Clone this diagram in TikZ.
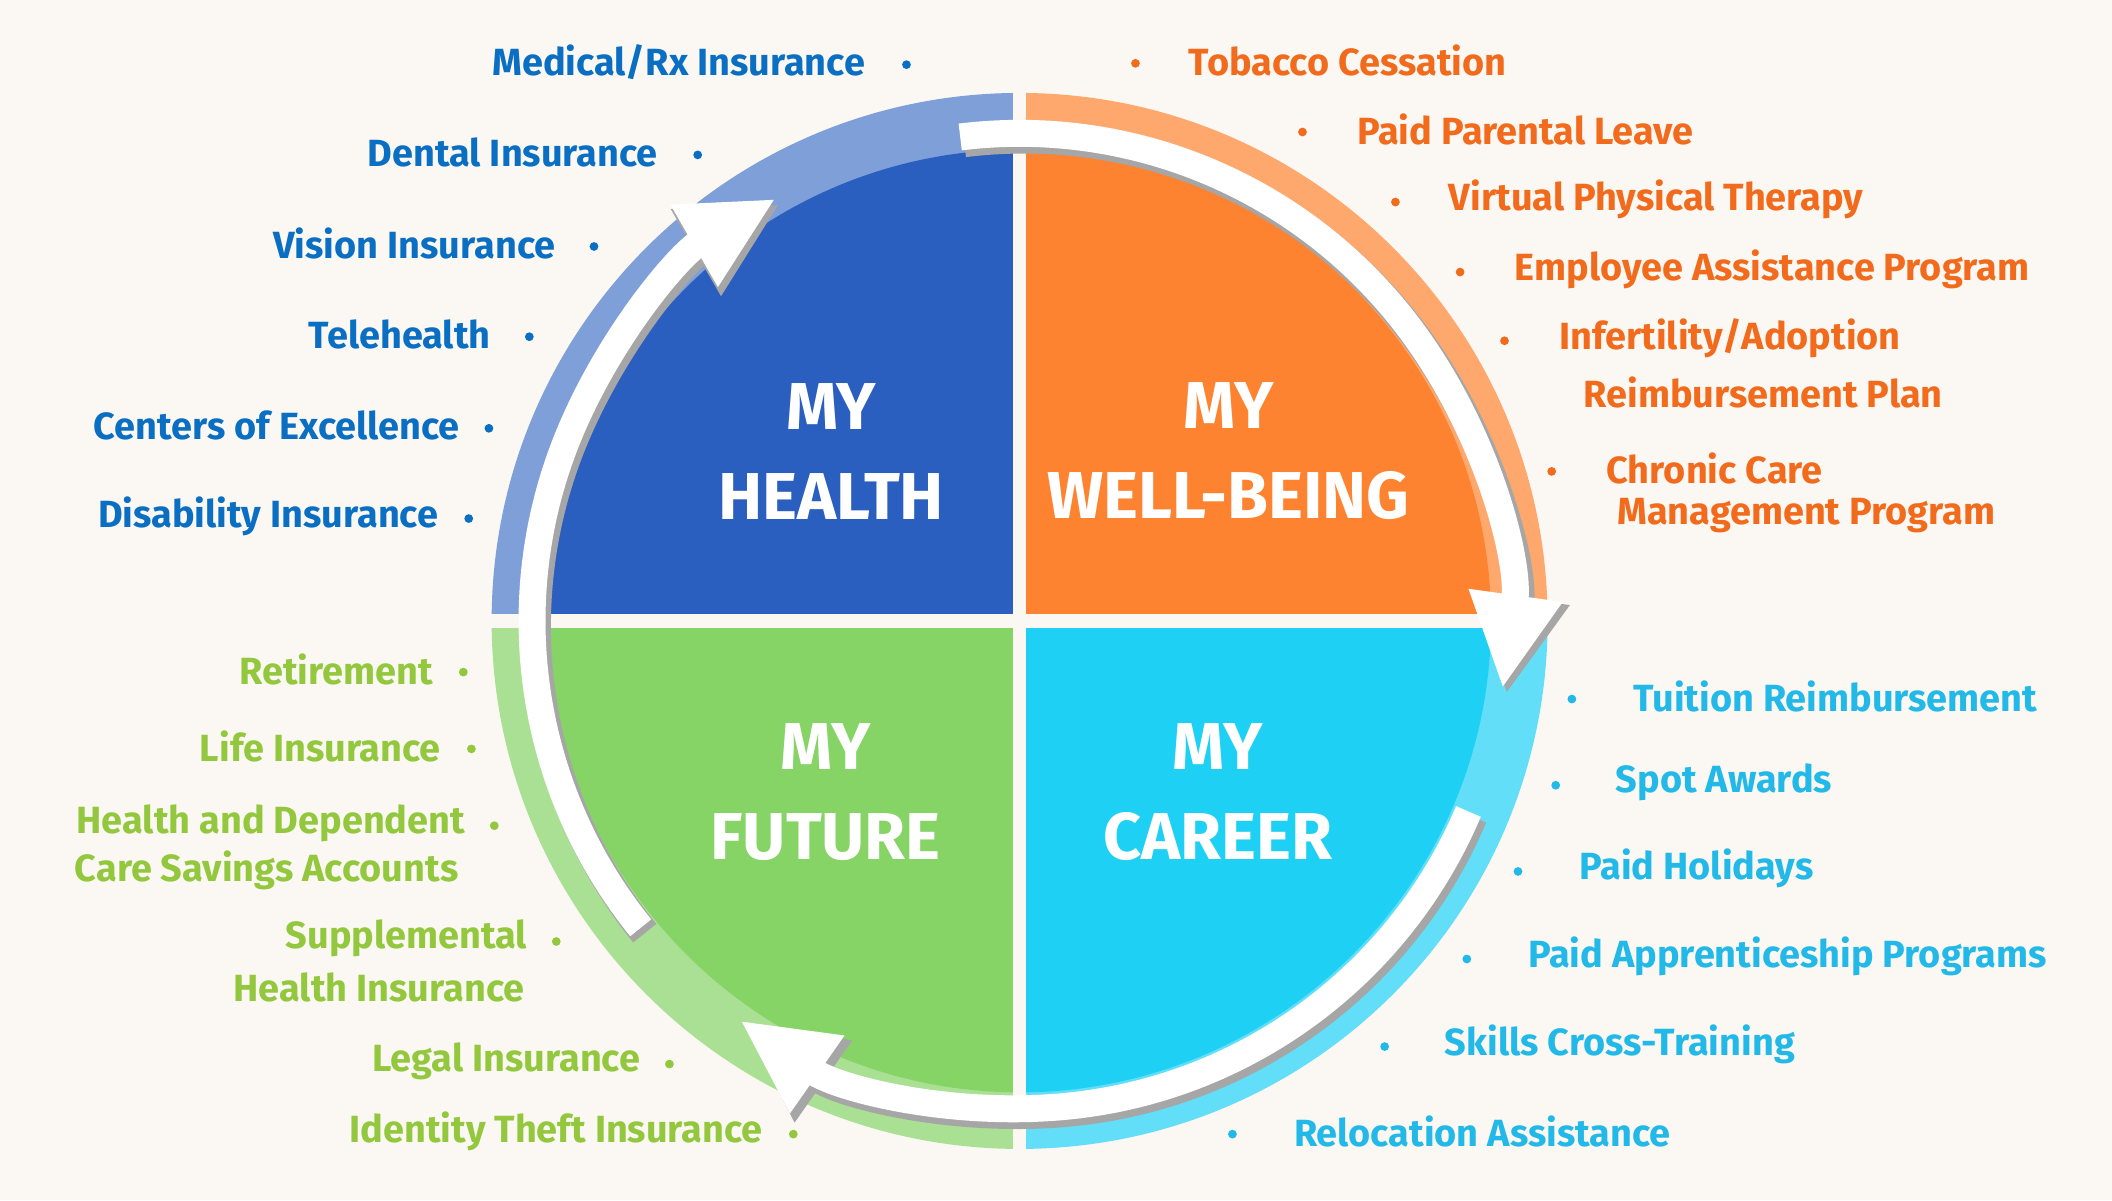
\documentclass[tikz,border=0pt]{standalone}
\usepackage{fontspec}
\setmainfont{Fira Sans}
\usetikzlibrary{arrows.meta}
\definecolor{bg}{HTML}{FBF8F3}
\definecolor{tblue}{HTML}{0A6FC2}
\definecolor{torange}{HTML}{F26B1D}
\definecolor{tgreen}{HTML}{93C83E}
\definecolor{tcyan}{HTML}{22B9E8}
\definecolor{qblue}{HTML}{2A5FC0}
\definecolor{qorange}{HTML}{FD8330}
\definecolor{qgreen}{HTML}{86D366}
\definecolor{qcyan}{HTML}{1FD0F5}
\tikzset{
 itm/.style={font=\fontsize{8}{9}\selectfont\bfseries, inner sep=0pt},
 big/.style={font=\fontsize{14}{19}\selectfont\bfseries, text=white, align=center},
 dot/.style={circle, inner sep=0pt, minimum size=0.065cm},
 arr/.style={line width=0.2cm, white, -{Triangle[length=0.7cm,width=0.65cm]}},
 sh/.style={line width=0.22cm, black!35, -{Triangle[length=0.72cm,width=0.69cm]}}
}
\begin{document}
\begin{tikzpicture}[x={(0.01cm,0)},y={(0,-0.01cm)}]
\fill[bg] (0,0) rectangle (1568,891);
\useasboundingbox (0,0) rectangle (1568,891);
\coordinate (c) at (757,461);
% outer ring
\fill[qblue!60] (c) -- +(-180:392) arc[start angle=-180,end angle=-90,radius=392] -- cycle;
\fill[qorange!70] (c) -- +(-90:392) arc[start angle=-90,end angle=0,radius=392] -- cycle;
\fill[qcyan!70] (c) -- +(0:392) arc[start angle=0,end angle=90,radius=392] -- cycle;
\fill[qgreen!70] (c) -- +(90:392) arc[start angle=90,end angle=180,radius=392] -- cycle;
% inner quadrants
\fill[qblue] (c) -- +(-180:350) arc[start angle=-180,end angle=-90,radius=350] -- cycle;
\fill[qorange] (c) -- +(-90:350) arc[start angle=-90,end angle=0,radius=350] -- cycle;
\fill[qcyan] (c) -- +(0:350) arc[start angle=0,end angle=90,radius=350] -- cycle;
\fill[qgreen] (c) -- +(90:350) arc[start angle=90,end angle=180,radius=350] -- cycle;
\draw[bg, line width=0.1cm] (757,60) -- (757,862);
\draw[bg, line width=0.1cm] (355,461) -- (1160,461);
% arrows: shadows
\draw[sh] ([shift={(3,4)}]c) ++(-219:362) arc[start angle=-219,end angle=-120,radius=362];
\draw[sh] ([shift={(3,4)}]c) ++(-97:362) arc[start angle=-97,end angle=8,radius=362];
\draw[sh] ([shift={(3,4)}]c) ++(23:362) arc[start angle=23,end angle=125,radius=362];
% arrows
\draw[arr] (c) ++(-219:362) arc[start angle=-219,end angle=-120,radius=362];
\draw[arr] (c) ++(-97:362) arc[start angle=-97,end angle=8,radius=362];
\draw[arr] (c) ++(23:362) arc[start angle=23,end angle=125,radius=362];
% quadrant labels
\node[big] (h) at (617,335) {MY\\HEALTH};
\node[big] (w) at (912,335) {MY\\WELL-BEING};
\node[big] (f) at (613,588) {MY\\FUTURE};
\node[big] (k) at (904,588) {MY\\CAREER};
% blue items
\foreach \t/\x/\y/\d [count=\i] in {{Medical/Rx Insurance}/643/46/673, Dental Insurance/489/113/518, Vision Insurance/413/181/441, Telehealth/365/248/393, Centers of Excellence/342/316/363, Disability Insurance/326/383/348}{
 \node[itm, text=tblue, anchor=east] (b\i) at (\x,\y) {\t};
 \node[dot, fill=tblue] (bd\i) at (\d,\y+2) {};
}
% orange items
\foreach \t/\x/\y/\d [count=\i] in {Tobacco Cessation/882/45/843, Paid Parental Leave/1007/96/967, Virtual Physical Therapy/1075/148/1036, Employee Assistance Program/1124/200/1084, {Infertility/Adoption}/1157/251/1117, Chronic Care/1192/348/1152}{
 \node[itm, text=torange, anchor=west] (o\i) at (\x,\y) {\t};
 \node[dot, fill=torange] (od\i) at (\d,\y+2) {};
}
\node[itm, text=torange, anchor=west] (o5b) at (1175,291) {Reimbursement Plan};
\node[itm, text=torange, anchor=west] (o6b) at (1200,383) {Management Program};
% cyan items
\foreach \t/\x/\y/\d [count=\i] in {Tuition Reimbursement/1212/517/1167, Spot Awards/1199/581/1155, Paid Holidays/1172/645/1127, Paid Apprenticeship Programs/1134/710/1089, Skills Cross-Training/1072/775/1028, Relocation Assistance/960/840/915}{
 \node[itm, text=tcyan, anchor=west] (cy\i) at (\x,\y) {\t};
 \node[dot, fill=tcyan] (cd\i) at (\d,\y+2) {};
}
% green items
\foreach \t/\x/\y/\d [count=\i] in {Retirement/322/497/344, Life Insurance/328/554/350, Health and Dependent/346/611/367, Supplemental/392/697/413, Legal Insurance/476/788/497, Identity Theft Insurance/567/840/589}{
 \node[itm, text=tgreen, anchor=east] (g\i) at (\x,\y) {\t};
 \node[dot, fill=tgreen] (gd\i) at (\d,\y+2) {};
}
\node[itm, text=tgreen, anchor=east] (g3b) at (341,646) {Care Savings Accounts};
\node[itm, text=tgreen, anchor=east] (g4b) at (390,733) {Health Insurance};
\end{tikzpicture}
\end{document}
